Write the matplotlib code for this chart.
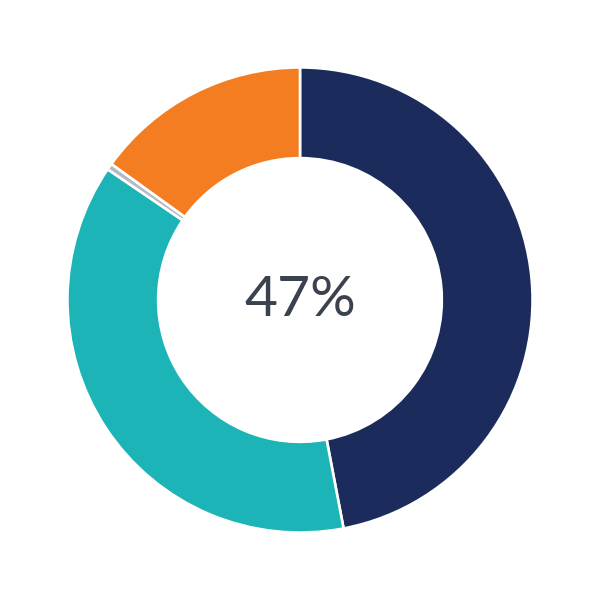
import matplotlib.pyplot as plt

# segment shares (clockwise from 12 o'clock)
labels = ["Navy", "Teal", "Gray", "Orange"]
values = [47.0, 37.5, 0.45, 15.05]
colors = ["#1b2b5b", "#1cb4b7", "#b4b9c4", "#f37d20"]
center_text = "47%"

fig = plt.figure(figsize=(6, 6), dpi=100)
ax = fig.add_axes([0, 0, 1, 1])

ax.pie(values, colors=colors, startangle=90, counterclock=False,
       wedgeprops=dict(width=0.39, edgecolor="white", linewidth=1.9))
ax.text(0, 0, center_text, ha="center", va="center", fontsize=41,
        color="#3a414f", family="Lato", fontweight="normal")

ax.set_xlim(-1.29, 1.29)
ax.set_ylim(-1.29, 1.29)
ax.set_aspect("equal")
ax.axis("off")

fig.savefig("out.png", dpi=100, facecolor="white")
